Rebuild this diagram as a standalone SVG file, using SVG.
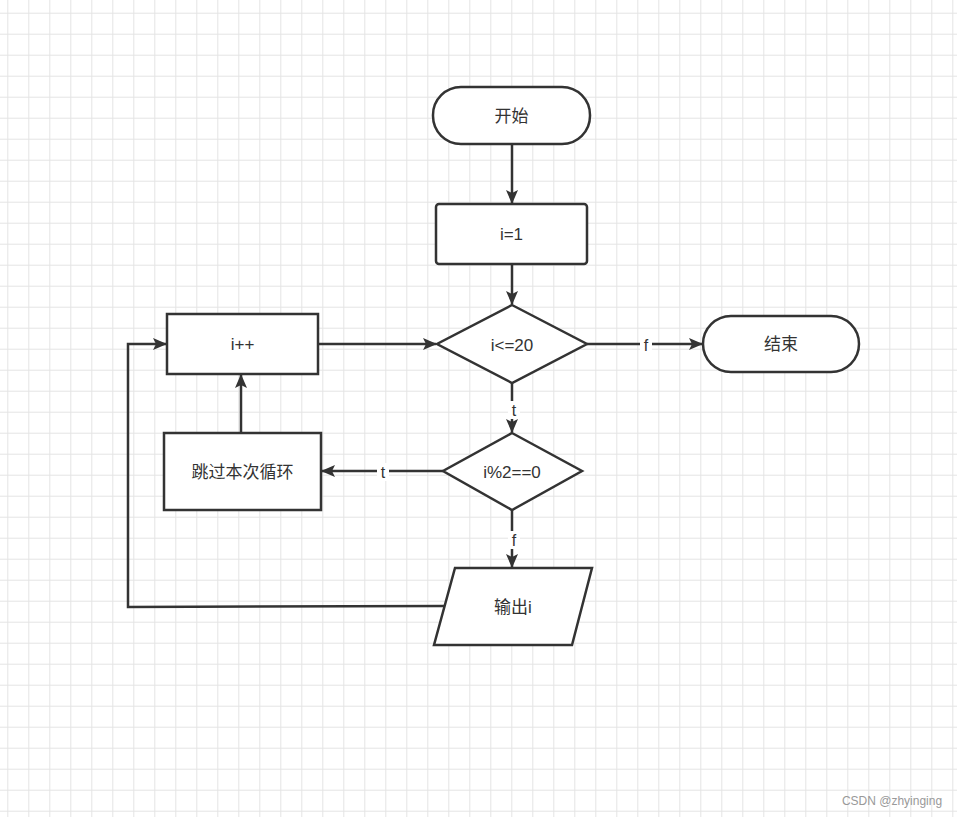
<svg xmlns="http://www.w3.org/2000/svg" width="957" height="817" viewBox="0 0 957 817">
<defs>
<pattern id="g" x="7.3" y="12.7" width="21" height="21" patternUnits="userSpaceOnUse"><path d="M0 0H21M0 0V21" fill="none" stroke="#e4e4e4" stroke-width="2"/></pattern>
<marker id="a" markerWidth="14" markerHeight="12" refX="13" refY="6" orient="auto" markerUnits="userSpaceOnUse" viewBox="0 0 14 12"><path d="M0 0L14 6L0 12L3 6Z" fill="#333"/></marker>
</defs>
<style>
.n{fill:#fff;stroke:#333;stroke-width:2.5}
.c{fill:none;stroke:#333;stroke-width:2.5;marker-end:url(#a)}
text{font-family:"Liberation Sans","Noto Sans CJK SC",sans-serif;font-size:17px;fill:#333;text-anchor:middle;dominant-baseline:central}
.l{font-size:16px}
</style>
<rect width="957" height="817" fill="#fff"/>
<rect width="957" height="817" fill="url(#g)"/>
<g id="connectors">
<path class="c" d="M512 144V203"/>
<path class="c" d="M512 264V304"/>
<path class="c" d="M587 344H702"/>
<path class="c" d="M512 383V432"/>
<path class="c" d="M443 471H322"/>
<path class="c" d="M512 510V567"/>
<path class="c" d="M241 433V375"/>
<path class="c" d="M318 344H436"/>
<path class="c" d="M445 606L128 607V344H166"/>
<rect x="640" y="335" width="12" height="18" fill="#fff"/><text class="l" x="646" y="345">f</text>
<rect x="508" y="401" width="12" height="18" fill="#fff"/><text class="l" x="514" y="410">t</text>
<rect x="377" y="463" width="12" height="18" fill="#fff"/><text class="l" x="383" y="472">t</text>
<rect x="508" y="531" width="12" height="18" fill="#fff"/><text class="l" x="514" y="540">f</text>
</g>
<g id="start"><rect class="n" x="433" y="87" width="157" height="57" rx="28"/><text x="511.5" y="116">开始</text></g>
<g id="init"><rect class="n" x="436" y="204" width="151" height="60" rx="3"/><text x="511.5" y="234">i=1</text></g>
<g id="cond"><path class="n" d="M512 305L587 344L512 383L437 344Z"/><text x="512" y="345">i&lt;=20</text></g>
<g id="end"><rect class="n" x="703" y="316" width="156" height="56" rx="28"/><text x="781" y="344">结束</text></g>
<g id="inc"><rect class="n" x="167" y="314" width="151" height="60"/><text x="242.5" y="344">i++</text></g>
<g id="skip"><rect class="n" x="164" y="433" width="157" height="77"/><text x="242.5" y="472">跳过本次循环</text></g>
<g id="mod"><path class="n" d="M512 433L582 471L512 510L443 471Z"/><text x="512" y="472">i%2==0</text></g>
<g id="out"><path class="n" d="M455 568H592L572 645H434Z"/><text x="513" y="607">输出i</text></g>
<text x="892" y="801" style="font-size:12px;fill:#999">CSDN @zhyinging</text>
</svg>
